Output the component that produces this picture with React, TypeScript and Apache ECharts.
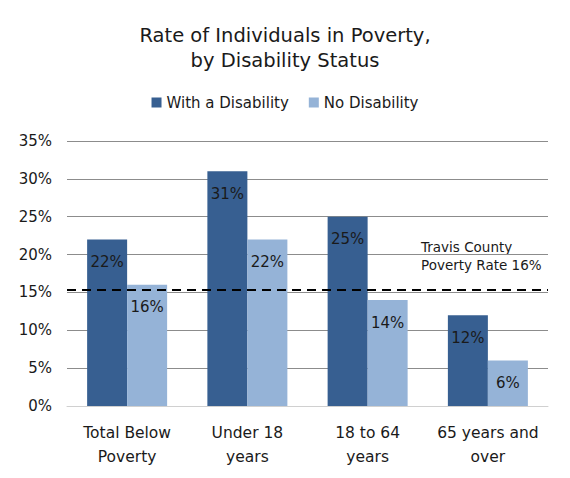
import React, { useEffect, useRef } from "react";
import * as echarts from "echarts";

const categories = ["Total Below\nPoverty", "Under 18\nyears", "18 to 64\nyears", "65 years and\nover"];
const withDisability = [22, 31, 25, 12];
const noDisability = [16, 22, 14, 6];
const seriesNames = ["With a Disability", "No Disability"];
const countyRate = 15.4;
const countyLabel = ["Travis County", "Poverty Rate 16%"];
const titleText = "Rate of Individuals in Poverty,\nby Disability Status";

const FONT = "'DejaVu Sans', sans-serif";

export default function App() {
  const ref = useRef<HTMLDivElement>(null);
  useEffect(() => {
    if (!ref.current) return;
    const chart = echarts.init(ref.current, undefined, { renderer: "svg" });
    const labelStyle = {
      show: true,
      position: "insideTop",
      distance: 15,
      formatter: (p: any) => p.value + "%",
      color: "#1a1a1a",
      fontSize: 15,
      fontFamily: FONT,
    };
    chart.setOption({
      animation: false,
      backgroundColor: "#ffffff",
      textStyle: { fontFamily: FONT },
      title: {
        text: titleText,
        left: "center",
        top: 18,
        textStyle: { fontSize: 19.5, fontWeight: "normal", color: "#1a1a1a", lineHeight: 25, fontFamily: FONT },
      },
      legend: {
        data: seriesNames,
        top: 90,
        left: "center",
        itemWidth: 10,
        itemHeight: 10,
        itemGap: 20,
        icon: "rect",
        textStyle: { fontSize: 15, color: "#1a1a1a", fontFamily: FONT },
      },
      grid: { left: 67, right: 22, top: 141, bottom: 72, containLabel: false },
      xAxis: {
        type: "category",
        data: categories,
        axisLine: { lineStyle: { color: "#d0d0d0", width: 1 } },
        axisTick: { show: false },
        axisLabel: { interval: 0, fontSize: 15.5, color: "#1a1a1a", lineHeight: 24, margin: 15, fontFamily: FONT },
      },
      yAxis: {
        type: "value",
        min: 0,
        max: 35,
        interval: 5,
        axisLine: { show: false },
        axisTick: { show: false },
        splitLine: { lineStyle: { color: "#8c8c8c", width: 1 } },
        axisLabel: { formatter: "{value}%", fontSize: 15, color: "#1a1a1a", margin: 15, fontFamily: FONT },
      },
      series: [
        {
          name: seriesNames[0],
          type: "bar",
          data: withDisability,
          barWidth: 40,
          barGap: "0%",
          itemStyle: { color: "#375F91" },
          label: labelStyle,
          markLine: {
            symbol: "none",
            silent: true,
            label: { show: false },
            lineStyle: { type: [9, 6], color: "#000000", width: 2 },
            data: [{ yAxis: countyRate }],
          },
        },
        {
          name: seriesNames[1],
          type: "bar",
          data: noDisability,
          barWidth: 40,
          itemStyle: { color: "#95B3D7" },
          label: labelStyle,
        },
      ],
      graphic: [
        {
          type: "text",
          left: 421,
          top: 238,
          style: {
            text: countyLabel.join("\n"),
            fontSize: 13.5,
            lineHeight: 18,
            fill: "#1a1a1a",
            fontFamily: FONT,
          },
        },
      ],
    });
    return () => chart.dispose();
  }, []);
  return <div ref={ref} style={{ position: "fixed", left: 0, top: 0, width: 570, height: 478 }} />;
}
